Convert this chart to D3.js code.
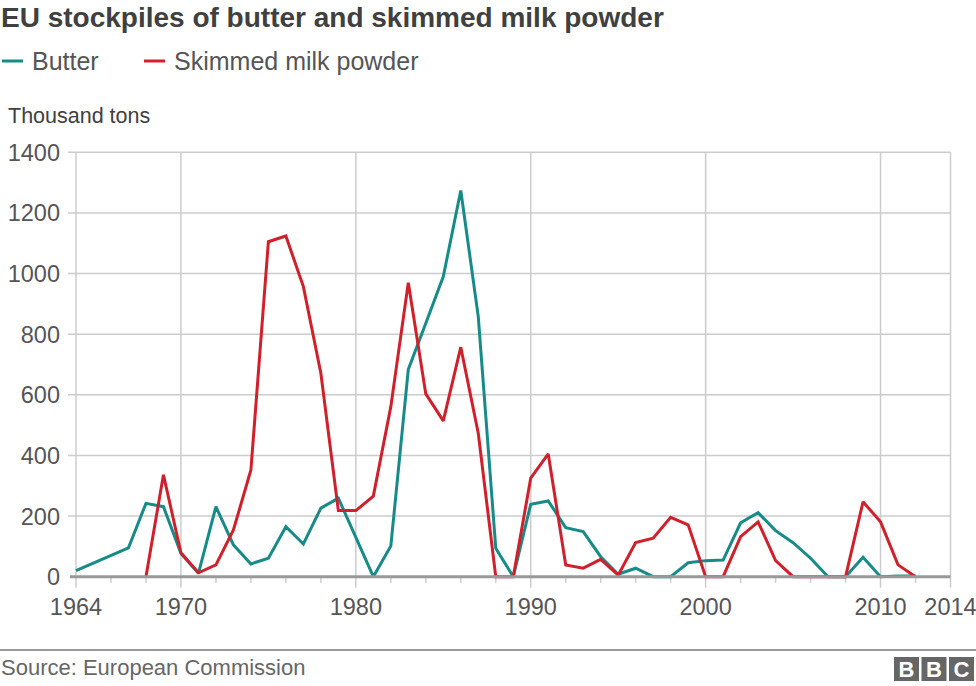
<!DOCTYPE html>
<html>
<head>
<meta charset="utf-8">
<script src="https://cdn.jsdelivr.net/npm/d3@7"></script>
<style>
  html, body { margin: 0; padding: 0; background: #fff; }
  svg { display: block; font-family: Arial, "Liberation Sans", Helvetica, sans-serif; }
</style>
</head>
<body>
<svg id="chart" width="976" height="686"></svg>
<script>
// ---- Data ----
const butterYears = [1964, 1967, 1968, 1969, 1970, 1971, 1972, 1973, 1974, 1975, 1976, 1977, 1978, 1979, 1980,
  1981, 1982, 1983, 1984, 1985, 1986, 1987, 1988, 1989, 1990, 1991, 1992, 1993, 1994, 1995, 1996, 1997, 1998,
  1999, 2000, 2001, 2002, 2003, 2004, 2005, 2006, 2007, 2008, 2009, 2010, 2011, 2012];
const butterValues = [20, 95, 242, 231, 77, 11, 231, 105, 42, 61, 165, 108, 226, 259, 130,
  0, 101, 684, 836, 990, 1274, 858, 94, 0, 239, 250, 162, 149, 66, 8, 28, 0, 0,
  46, 53, 55, 178, 211, 152, 112, 61, 0, 0, 64, 0, 2, 2];

const smpYears = [1968, 1969, 1970, 1971, 1972, 1973, 1974, 1975, 1976, 1977, 1978, 1979, 1980,
  1981, 1982, 1983, 1984, 1985, 1986, 1987, 1988, 1989, 1990, 1991, 1992, 1993, 1994, 1995, 1996, 1997, 1998,
  1999, 2000, 2001, 2002, 2003, 2004, 2005, 2006, 2007, 2008, 2009, 2010, 2011, 2012];
const smpValues = [0, 336, 79, 13, 39, 154, 352, 1105, 1124, 957, 671, 218, 218,
  266, 561, 970, 603, 514, 757, 473, 0, 0, 325, 405, 39, 28, 57, 5, 113, 127, 196,
  171, 0, 0, 132, 181, 53, 0, 0, 0, 0, 247, 181, 39, 0];

const yTicks = [0, 200, 400, 600, 800, 1000, 1200, 1400];
const xMajorTicks = [1964, 1970, 1980, 1990, 2000, 2010, 2014];
const xMinorTicks = d3.range(1966, 2014, 2);

const seriesNames = ["Butter", "Skimmed milk powder"];
const seriesColors = ["#178b88", "#d0202b"];

// ---- Chart ----
const svg = d3.select("#chart");
const x = d3.scaleLinear().domain([1964, 2014]).range([76, 950.5]);
const y = d3.scaleLinear().domain([0, 1400]).range([576.7, 152.3]);

const textGrey = "#555";

// Title
svg.append("text").attr("x", 1).attr("y", 27)
  .attr("font-size", 28).attr("font-weight", "bold").attr("fill", "#404040")
  .text("EU stockpiles of butter and skimmed milk powder");

// Legend
const legendX = [2, 144];
seriesNames.forEach((name, i) => {
  const g = svg.append("g").attr("transform", `translate(${legendX[i]},61)`);
  g.append("line").attr("x1", 0).attr("x2", 21).attr("y1", 0).attr("y2", 0)
    .attr("stroke", seriesColors[i]).attr("stroke-width", 3);
  g.append("text").attr("x", 30).attr("y", 8.5)
    .attr("font-size", 25).attr("fill", textGrey).text(name);
});

// Unit label
svg.append("text").attr("x", 8).attr("y", 123)
  .attr("font-size", 21.5).attr("fill", "#404040").text("Thousand tons");

// Horizontal gridlines
svg.append("g").selectAll("line").data(yTicks.filter(d => d > 0)).join("line")
  .attr("x1", 68).attr("x2", x(2014))
  .attr("y1", d => y(d)).attr("y2", d => y(d))
  .attr("stroke", "#cccccc").attr("stroke-width", 1.5);

// Vertical gridlines (major)
svg.append("g").selectAll("line").data(xMajorTicks).join("line")
  .attr("x1", d => x(d)).attr("x2", d => x(d))
  .attr("y1", y(1400)).attr("y2", y(0) + 11)
  .attr("stroke", "#cccccc").attr("stroke-width", 1.5);

// Minor ticks
svg.append("g").selectAll("line").data(xMinorTicks.filter(d => !xMajorTicks.includes(d))).join("line")
  .attr("x1", d => x(d)).attr("x2", d => x(d))
  .attr("y1", y(0)).attr("y2", y(0) + 6)
  .attr("stroke", "#cccccc").attr("stroke-width", 1.5);

// Y labels
svg.append("g").selectAll("text").data(yTicks).join("text")
  .attr("x", 60).attr("y", d => y(d)).attr("dy", "0.36em")
  .attr("text-anchor", "end").attr("font-size", 23.5).attr("fill", textGrey)
  .text(d => d);

// X labels
svg.append("g").selectAll("text").data(xMajorTicks).join("text")
  .attr("x", d => x(d)).attr("y", 615)
  .attr("text-anchor", "middle").attr("font-size", 23.5).attr("fill", textGrey)
  .text(d => d);

// Lines
const line = d3.line().x(d => x(d[0])).y(d => y(d[1]));
const butterData = butterYears.map((yr, i) => [yr, butterValues[i]]);
const smpData = smpYears.map((yr, i) => [yr, smpValues[i]]);

[butterData, smpData].forEach((data, i) => {
  svg.append("path").datum(data)
    .attr("d", line).attr("fill", "none")
    .attr("stroke", seriesColors[i]).attr("stroke-width", 3)
    .attr("stroke-linejoin", "miter").attr("stroke-miterlimit", 2);
});

// Baseline
svg.append("line").attr("x1", 70).attr("x2", x(2014))
  .attr("y1", y(0)).attr("y2", y(0))
  .attr("stroke", "#999999").attr("stroke-width", 3);

// Footer
svg.append("line").attr("x1", 0).attr("x2", 976).attr("y1", 650).attr("y2", 650)
  .attr("stroke", "#999999").attr("stroke-width", 2);
svg.append("text").attr("x", 1).attr("y", 675)
  .attr("font-size", 22).attr("fill", "#666").text("Source: European Commission");

const bbc = ["B", "B", "C"];
const bbcG = svg.append("g");
bbc.forEach((ch, i) => {
  const bx = 894 + i * 27.5;
  bbcG.append("rect").attr("x", bx).attr("y", 657).attr("width", 25).attr("height", 24)
    .attr("fill", "#666");
  bbcG.append("text").attr("x", bx + 12.5).attr("y", 677)
    .attr("text-anchor", "middle").attr("font-size", 22).attr("font-weight", "bold")
    .attr("fill", "#fff").text(ch);
});
</script>
</body>
</html>
